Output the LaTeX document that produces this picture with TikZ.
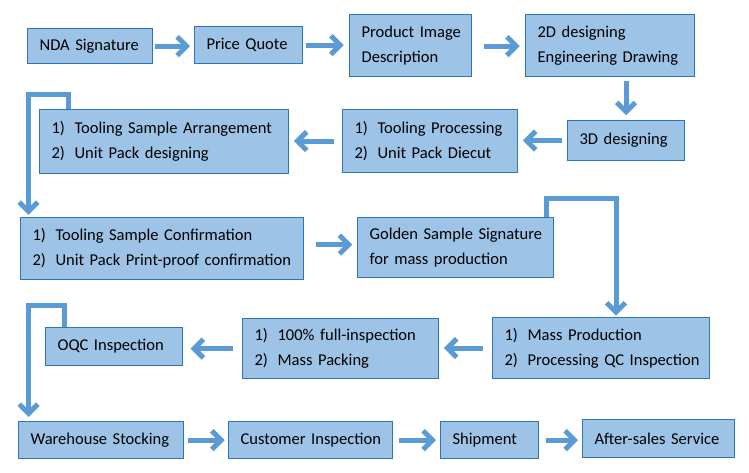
\documentclass[tikz,border=0pt]{standalone}
\usepackage{fontspec}
\setmainfont{Carlito}
\usetikzlibrary{arrows.meta}
\definecolor{boxfill}{HTML}{9DC3E6}
\definecolor{boxline}{HTML}{2E75B6}
\definecolor{arrowc}{HTML}{5B9BD5}
\hfuzz=200pt
\tikzset{
  box/.style={draw=boxline, fill=boxfill, line width=0.9pt, inner xsep=9pt, inner ysep=0pt,
    align=left, text=black, font=\fontsize{12.4}{18.75}\selectfont},
  conn/.style={draw=arrowc, line width=3.75pt, -{Straight Barb[length=7pt,width=14pt]}},
}
\newcommand\mkbox[6]{%
  \pgfmathsetmacro\bw{(#4-#2)*0.75}\pgfmathsetmacro\bh{(#5-#3)*0.75}\pgfmathsetmacro\tw{(#4-#2)*0.75-18}%
  \node[box, minimum width=\bw pt, minimum height=\bh pt, text width=\tw pt, anchor=north west] (#1) at (#2,#3) {#6};}
\newcommand\itm[1]{\makebox[17.25pt][l]{#1}}
\begin{document}
\begin{tikzpicture}[x=0.75pt, y=-0.75pt]
\fill[white] (0,0) rectangle (749,473);
\useasboundingbox (0,0) rectangle (749,473);
\mkbox{nda}{27}{28}{152}{63}{\mbox{NDA Signature}}
\mkbox{price}{194}{26}{302}{63}{\mbox{Price Quote}}
\mkbox{prod}{349}{14}{471}{76}{\mbox{Product Image}\\\mbox{Description}}
\mkbox{twod}{525}{14}{694}{76}{\mbox{2D designing}\\\mbox{Engineering Drawing}}
\mkbox{threed}{567}{120}{684}{160}{\mbox{3D designing}}
\mkbox{tproc}{342}{109}{517}{172}{\mbox{\itm{1)}Tooling Processing}\\\mbox{\itm{2)}Unit Pack Diecut}}
\mkbox{tarr}{39}{109}{288}{173}{\mbox{\itm{1)}Tooling Sample Arrangement}\\\mbox{\itm{2)}Unit Pack designing}}
\mkbox{tconf}{20}{217}{303}{279}{\mbox{\itm{1)}Tooling Sample Confirmation}\\\mbox{\itm{2)}Unit Pack Print-proof confirmation}}
\mkbox{gold}{357}{217}{553}{277}{\mbox{Golden Sample Signature}\\\mbox{for mass production}}
\mkbox{full}{242}{318}{438}{378}{\mbox{\itm{1)}100\% full-inspection}\\\mbox{\itm{2)}Mass Packing}}
\mkbox{mass}{492}{317}{709}{378}{\mbox{\itm{1)}Mass Production}\\\mbox{\itm{2)}Processing QC Inspection}}
\mkbox{oqc}{45}{327}{182}{365}{\mbox{OQC Inspection}}
\mkbox{ware}{18}{421}{183}{458}{\mbox{Warehouse Stocking}}
\mkbox{cust}{228}{421}{392}{458}{\mbox{Customer Inspection}}
\mkbox{ship}{440}{421}{538}{458}{\mbox{Shipment}}
\mkbox{after}{582}{419}{734}{457}{\mbox{After-sales Service}}

\draw[conn, shorten <=1.5pt, shorten >=3pt] (nda.east) -- (nda.east -| price.west);
\draw[conn, shorten <=2pt, shorten >=4pt] (price.east) -- (price.east -| prod.west);
\draw[conn, shorten <=9pt, shorten >=4pt] (prod.east |- nda.east) -- (nda.east -| twod.west);
\draw[conn, shorten <=3pt, shorten >=3.5pt] (twod.south -| threed.north) -- (threed.north);
\draw[conn, shorten <=3.5pt, shorten >=3.5pt] (threed.west) -- (threed.west -| tproc.east);
\draw[conn, shorten <=6pt, shorten >=3.5pt] (tproc.west) -- (tproc.west -| tarr.east);
\draw[conn, shorten <=9pt, shorten >=3.5pt] ([yshift=3pt]tconf.east) -- ([yshift=3pt]tconf.east -| gold.west);
\draw[conn, shorten <=7pt, shorten >=3.5pt] (mass.west) -- (mass.west -| full.east);
\draw[conn, shorten <=7pt, shorten >=5.5pt] (full.west) -- (full.west -| oqc.east);
\draw[conn, shorten <=2.5pt, shorten >=2.5pt] (ware.east) -- (ware.east -| cust.west);
\draw[conn, shorten <=4pt, shorten >=3pt] (cust.east) -- (cust.east -| ship.west);
\draw[conn, shorten <=5pt, shorten >=3pt] (ship.east) -- (ship.east -| after.west);

\coordinate (c1a) at (68,95); \coordinate (c1b) at (28.5,95);
\draw[conn, shorten >=1.5pt] (tarr.north -| c1a) -- (c1a) -- (c1b) -- (tconf.north -| c1b);
\coordinate (c2a) at (546.5,199); \coordinate (c2b) at (616,199);
\draw[conn, shorten >=1pt] (gold.north -| c2a) -- (c2a) -- (c2b) -- (mass.north -| c2b);
\coordinate (c3a) at (64.5,306); \coordinate (c3b) at (28.5,306);
\draw[conn, shorten >=3pt] (oqc.north -| c3a) -- (c3a) -- (c3b) -- (ware.north -| c3b);
\end{tikzpicture}
\end{document}
